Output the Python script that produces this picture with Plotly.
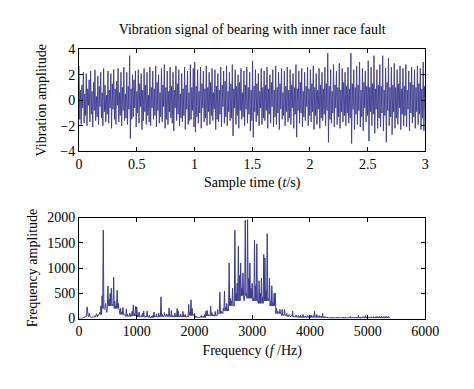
import plotly.graph_objects as go

# ---- Time-domain vibration signal (t from 0 to 3 s) ----
signal = [
    2.7, -1.5, 0.8, -1.9, 1.2, -0.6, 2.2, -1.8, 0.5, -1.2, 2.1, -2.0, 0.9, -0.4, 1.6, -1.7,
    2.3, -1.1, 0.7, -2.1, 1.4, -0.8, 2.4, -1.6, 0.3, -1.3, 1.9, -1.9, 1.1, -0.5, 2.2, -1.4,
    0.6, -2.0, 2.5, -0.9, 1.2, -1.7, 0.4, -1.1, 2.3, -1.8, 0.8, -0.6, 2.1, -2.2, 1.3, -0.7,
    2.4, -1.5, 0.9, -1.9, 1.5, -0.4, 2.5, -1.7, 0.6, -1.2, 2.2, -2.0, 1.0, -0.8, 2.6, -1.6,
    0.5, -1.4, 2.2, -1.9, 1.1, -0.7, 3.5, -3.0, 0.9, -1.5, 2.0, -1.3, 1.6, -0.6, 2.3, -2.1,
    0.7, -1.0, 2.4, -1.8, 1.3, -0.5, 2.1, -2.3, 0.8, -1.6, 2.5, -0.9, 1.2, -1.9, 2.2, -1.2,
    0.4, -1.7, 2.6, -2.0, 1.0, -0.6, 2.3, -1.5, 0.9, -1.2, 2.7, -2.1, 1.4, -0.8, 2.0, -1.8,
    0.6, -1.3, 2.5, -1.7, 1.2, -0.5, 2.8, -2.2, 1.0, -1.5, 2.3, -1.9, 0.7, -0.9, 2.6, -1.4,
    1.1, -1.8, 2.2, -2.4, 0.8, -0.6, 2.7, -1.6, 1.3, -1.1, 2.4, -2.0, 0.5, -1.4, 2.1, -1.7,
    0.9, -1.2, 2.6, -2.3, 1.2, -0.7, 2.3, -1.9, 0.6, -1.6, 2.8, -1.5, 1.0, -0.8, 2.5, -2.1,
    3.0, -2.5, 1.1, -1.3, 2.4, -1.8, 0.7, -1.0, 2.6, -2.2, 1.3, -0.6, 2.3, -1.7, 0.9, -1.4,
    2.7, -2.0, 1.0, -0.9, 2.2, -1.9, 1.4, -1.2, 2.5, -1.6, 0.6, -0.7, 2.4, -2.3, 1.1, -1.5,
    2.1, -1.7, 0.8, -1.1, 2.6, -2.1, 1.2, -0.5, 2.3, -1.8, 1.5, -1.3, 2.7, -2.0, 0.7, -0.9,
    2.2, -1.6, 1.3, -1.4, 2.8, -2.8, 0.9, -0.6, 2.4, -1.9, 1.1, -1.2, 2.0, -2.2, 1.4, -0.8,
    2.5, -1.5, 0.6, -1.3, 2.3, -2.0, 1.2, -0.7, 2.6, -1.8, 1.0, -1.1, 2.2, -2.4, 0.8, -1.6,
    3.1, -2.9, 1.1, -0.9, 2.4, -1.7, 1.3, -1.2, 2.1, -2.0, 0.7, -0.6, 2.5, -1.9, 1.0, -1.4,
    2.3, -1.6, 1.2, -0.8, 2.6, -2.2, 0.9, -1.1, 2.0, -1.8, 1.4, -0.5, 2.4, -2.1, 0.8, -1.3,
    2.7, -1.9, 1.0, -1.0, 2.2, -2.3, 1.3, -0.7, 2.5, -1.5, 0.6, -1.2, 2.3, -2.0, 1.1, -0.9,
    2.6, -1.7, 0.8, -1.4, 2.4, -1.9, 1.2, -0.6, 2.1, -2.2, 1.0, -1.1, 2.8, -2.9, 0.9, -0.8,
    2.3, -1.8, 1.4, -1.0, 2.5, -2.1, 0.7, -1.3, 2.2, -1.6, 1.1, -0.5, 2.6, -2.0, 0.9, -1.2,
    2.4, -1.7, 1.3, -0.9, 2.7, -2.3, 1.0, -1.2, 2.1, -1.9, 0.8, -0.7, 2.5, -2.2, 1.2, -1.4,
    2.2, -1.6, 0.9, -1.1, 2.6, -2.0, 1.3, -0.8, 3.7, -3.3, 1.1, -1.5, 2.4, -1.8, 0.7, -1.0,
    2.8, -2.1, 1.2, -0.6, 2.3, -1.9, 1.0, -1.3, 2.9, -2.2, 0.8, -0.9, 2.5, -1.7, 1.4, -1.2,
    2.2, -2.0, 1.1, -1.0, 2.6, -1.8, 0.9, -1.4, 3.7, -3.4, 1.3, -0.7, 2.4, -2.3, 1.0, -1.1,
    2.7, -1.9, 1.2, -0.8, 3.0, -2.1, 0.8, -1.3, 2.5, -2.4, 1.4, -0.6, 2.3, -1.7, 1.1, -1.2,
    3.1, -3.2, 1.0, -0.9, 2.6, -2.0, 1.3, -1.1, 3.5, -2.6, 0.9, -0.7, 2.4, -2.2, 1.2, -1.4,
    2.8, -2.1, 1.1, -1.0, 3.5, -2.4, 0.8, -1.2, 2.5, -3.3, 1.4, -0.8, 3.3, -2.0, 1.0, -1.3,
    2.6, -2.7, 1.2, -0.9, 2.9, -2.2, 1.0, -1.4, 2.4, -1.9, 1.3, -0.6, 2.7, -2.3, 0.9, -1.1,
    2.5, -2.0, 1.1, -1.2, 2.8, -2.1, 0.8, -0.7, 2.3, -2.4, 1.4, -1.0, 2.6, -1.8, 1.2, -1.3,
    2.4, -2.2, 1.0, -0.9, 2.7, -1.9, 1.3, -1.1, 2.5, -2.3, 0.9, -1.4, 3.0, -2.4, 1.1, -0.8,
]
t_start, t_end = 0.0, 3.0

# ---- Spectrum: peak amplitude in each 20 Hz bin, 0 Hz .. 5400 Hz ----
spectrum_peaks = [
    0, 2, 5, 8, 12, 20, 35, 230, 40, 100,
    30, 15, 40, 25, 60, 90, 35, 70, 120, 250,
    450, 1750, 180, 300, 120, 640, 380, 500, 600, 280,
    820, 340, 250, 560, 300, 150, 200, 120, 220, 90,
    60, 190, 80, 50, 110, 70, 140, 270, 90, 240,
    230, 80, 130, 40, 60, 110, 150, 30, 50, 150,
    40, 70, 20, 50, 60, 130, 40, 90, 30, 110,
    60, 430, 80, 40, 120, 50, 90, 60, 210, 40,
    160, 70, 40, 110, 60, 200, 150, 50, 90, 40,
    140, 60, 80, 30, 50, 280, 120, 370, 200, 80,
    100, 50, 40, 30, 20, 40, 60, 30, 50, 80,
    150, 160, 80, 60, 250, 120, 80, 40, 140, 60,
    180, 90, 520, 150, 120, 200, 540, 220, 300, 180,
    1100, 400, 350, 600, 250, 1750, 500, 700, 1430, 850,
    1100, 600, 900, 350, 1950, 500, 1960, 800, 1100, 600,
    700, 400, 1550, 650, 1480, 300, 750, 500, 800, 420,
    1270, 1200, 550, 1680, 400, 800, 350, 650, 300, 500,
    500, 200, 150, 120, 180, 90, 180, 70, 180, 60,
    100, 60, 80, 40, 60, 150, 50, 40, 70, 30,
    60, 40, 70, 30, 80, 40, 50, 30, 60, 40,
    50, 70, 30, 60, 150, 40, 80, 30, 60, 40,
    50, 100, 30, 40, 20, 30, 20, 15, 25, 20,
    30, 20, 15, 25, 20, 30, 15, 20, 25, 30,
    20, 30, 15, 25, 20, 40, 15, 30, 20, 25,
    30, 20, 60, 25, 30, 20, 40, 25, 60, 30,
    20, 30, 25, 35, 20, 40, 30, 35, 40, 30,
    40, 35, 45, 30, 40, 35, 45, 30, 40, 20,
    0,
]
# background (floor) level between the peaks, one value per 100 Hz band
spectrum_floor = [
    5, 40, 30, 80, 200, 250, 200, 80, 40, 50,
    30, 30, 20, 30, 40, 40, 30, 30, 30, 60,
    20, 20, 50, 50, 100, 150, 250, 350, 450, 400,
    350, 300, 350, 250, 100, 60, 40, 30, 20, 20,
    20, 20, 15, 5, 5, 5, 5, 5, 5, 8,
    8, 8, 8, 8, 0,
]
f_step = 20
band_width = 100

top_xticks = [0, 0.5, 1, 1.5, 2, 2.5, 3]
top_yticks = [-4, -2, 0, 2, 4]
bot_xticks = [0, 1000, 2000, 3000, 4000, 5000, 6000]
bot_yticks = [0, 500, 1000, 1500, 2000]

title_text = "Vibration signal of bearing with inner race fault"
line_color = "#3b3b8f"
font_family = "Liberation Serif"

n = len(signal)
time = [t_start + (t_end - t_start) * i / (n - 1) for i in range(n)]

freq, amp = [], []
for i, v in enumerate(spectrum_peaks):
    f = i * f_step
    freq.append(f)
    amp.append(v)
    if i < len(spectrum_peaks) - 1:
        freq.append(f + f_step / 2)
        amp.append(spectrum_floor[int(f // band_width)])

fig = go.Figure()
fig.add_trace(go.Scatter(x=time, y=signal, mode="lines",
                         line=dict(color=line_color, width=0.9),
                         xaxis="x", yaxis="y", showlegend=False))
fig.add_trace(go.Scatter(x=freq, y=amp, mode="lines",
                         line=dict(color=line_color, width=1.0),
                         xaxis="x2", yaxis="y2", showlegend=False))

W, H = 474, 389
x_dom = [78 / W, 438 / W]
top_dom = [(H - 150) / H, (H - 44) / H]
bot_dom = [(H - 324) / H, (H - 219) / H]

axis_common = dict(showline=True, linecolor="black", linewidth=1, mirror="ticks",
                   ticks="inside", ticklen=4, tickcolor="black", showgrid=False,
                   zeroline=False, tickfont=dict(size=14, color="black"))
tfont = dict(size=14, color="black")

fig.update_layout(
    width=W, height=H,
    margin=dict(l=0, r=0, t=0, b=0),
    paper_bgcolor="white", plot_bgcolor="white",
    font=dict(family=font_family, size=14, color="black"),
    title=dict(text=title_text, x=(x_dom[0] + x_dom[1]) / 2, xanchor="center",
               y=(H - 29) / H, yanchor="middle", xref="paper", yref="container",
               font=tfont),
    xaxis=dict(domain=x_dom, anchor="y", range=[0, 3], tickvals=top_xticks,
               title=dict(text="Sample time (<i>t</i>/s)", standoff=6, font=tfont), **axis_common),
    yaxis=dict(domain=top_dom, anchor="x", range=[-4, 4], tickvals=top_yticks,
               title=dict(text="Vibration amplitude", standoff=10, font=tfont), **axis_common),
    xaxis2=dict(domain=x_dom, anchor="y2", range=[0, 6000], tickvals=bot_xticks,
                title=dict(text="Frequency (<i>f</i> /Hz)", standoff=6, font=tfont), **axis_common),
    yaxis2=dict(domain=bot_dom, anchor="x2", range=[0, 2000], tickvals=bot_yticks,
                title=dict(text="Frequency amplitude", standoff=6, font=tfont), **axis_common),
)

fig.write_html("out.html", config={"displayModeBar": False},
               post_script="document.body.style.margin='0';document.body.style.overflow='hidden';")
